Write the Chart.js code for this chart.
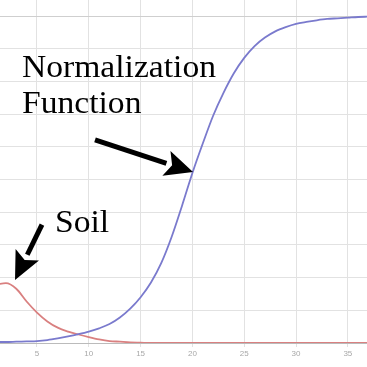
<!DOCTYPE html>
<html>
<head>
<meta charset="utf-8">
<script src="https://cdn.jsdelivr.net/npm/chart.js@4"></script>
<style>
  html, body { margin: 0; padding: 0; background: #fff; }
  #wrap { width: 367px; height: 367px; }
</style>
</head>
<body>
<div id="wrap"><canvas id="chart"></canvas></div>
<script>
// values
const xValues = [1, 2, 3, 4, 5, 6, 7, 8, 9, 10, 11, 12, 13, 14, 15, 16, 17, 18, 19,
  20, 21, 22, 23, 24, 25, 26, 27, 28, 29, 30, 31, 32, 33, 34, 35, 36, 37];
const soil = [0.178, 0.183, 0.166, 0.127, 0.093, 0.066, 0.047, 0.035, 0.026, 0.018,
  0.011, 0.006, 0.004, 0.002, 0.001, 0, 0, 0, 0, 0, 0, 0, 0, 0, 0, 0, 0, 0, 0, 0,
  0, 0, 0, 0, 0, 0, 0];
const normalization = [0.003, 0.003, 0.004, 0.005, 0.006, 0.009, 0.014, 0.020, 0.027,
  0.035, 0.045, 0.058, 0.078, 0.105, 0.14, 0.185, 0.245, 0.325, 0.42, 0.52, 0.61, 0.695,
  0.765, 0.825, 0.872, 0.908, 0.934, 0.953, 0.966, 0.976, 0.982, 0.987, 0.991, 0.993,
  0.995, 0.997, 0.998];
const xTicks = [5, 10, 15, 20, 25, 30, 35];
const yTicks = [0, 0.1, 0.2, 0.3, 0.4, 0.5, 0.6, 0.7, 0.8, 0.9, 1.0];

const toPoints = ys => xValues.map((x, i) => ({ x: x, y: ys[i] }));

// labels and arrows, placed in data coordinates
const labels = [
  { text: 'Normalization', x: 3.55, y: 0.813 },
  { text: 'Function', x: 3.55, y: 0.703 },
  { text: 'Soil', x: 6.74, y: 0.339 }
];
const arrows = [
  { from: [10.6, 0.621], to: [20.06, 0.523] },
  { from: [5.48, 0.362], to: [2.88, 0.193] }
];

const annotate = {
  id: 'annotate',
  afterDraw(chart) {
    const ctx = chart.ctx;
    const xs = chart.scales.x, ys = chart.scales.y;
    ctx.save();
    ctx.fillStyle = '#000';
    ctx.strokeStyle = '#000';
    ctx.font = '32px "Liberation Serif", "DejaVu Serif", serif';
    ctx.textBaseline = 'alphabetic';
    labels.forEach(l => {
      const px = xs.getPixelForValue(l.x), py = ys.getPixelForValue(l.y);
      ctx.save();
      ctx.translate(px, py);
      ctx.scale(1.05, 1);
      ctx.fillText(l.text, 0, 0);
      ctx.restore();
    });
    arrows.forEach(a => {
      const x1 = xs.getPixelForValue(a.from[0]), y1 = ys.getPixelForValue(a.from[1]);
      const x2 = xs.getPixelForValue(a.to[0]), y2 = ys.getPixelForValue(a.to[1]);
      const ang = Math.atan2(y2 - y1, x2 - x1);
      const headLen = 28, headW = 13;
      const bx = x2 - headLen * Math.cos(ang), by = y2 - headLen * Math.sin(ang);
      ctx.lineWidth = 5;
      ctx.beginPath();
      ctx.moveTo(x1, y1);
      ctx.lineTo(bx, by);
      ctx.stroke();
      ctx.beginPath();
      ctx.moveTo(x2, y2);
      ctx.lineTo(bx + headW * Math.sin(ang), by - headW * Math.cos(ang));
      ctx.lineTo(bx + 6 * Math.cos(ang), by + 6 * Math.sin(ang));
      ctx.lineTo(bx - headW * Math.sin(ang), by + headW * Math.cos(ang));
      ctx.closePath();
      ctx.fill();
    });
    ctx.restore();
  }
};

new Chart(document.getElementById('chart').getContext('2d'), {
  type: 'line',
  data: {
    datasets: [
      {
        label: 'Normalization Function',
        data: toPoints(normalization),
        borderColor: '#7a7acd',
        borderWidth: 1.8,
        pointRadius: 0,
        cubicInterpolationMode: 'monotone'
      },
      {
        label: 'Soil',
        data: toPoints(soil),
        borderColor: '#d98080',
        borderWidth: 1.8,
        pointRadius: 0,
        cubicInterpolationMode: 'monotone'
      }
    ]
  },
  options: {
    responsive: true,
    maintainAspectRatio: false,
    animation: false,
    layout: { padding: 0 },
    plugins: {
      legend: { display: false },
      tooltip: { enabled: false }
    },
    scales: {
      x: {
        type: 'linear',
        min: 1.43,
        max: 36.85,
        afterBuildTicks: s => { s.ticks = xTicks.map(v => ({ value: v })); },
        afterFit: s => { s.height = 24; },
        ticks: { color: '#a8a8a8', font: { size: 8 }, padding: 2, maxRotation: 0 },
        grid: { color: '#e2e2e2', tickLength: 4 },
        border: { color: '#bbb' }
      },
      y: {
        type: 'linear',
        min: 0,
        max: 1.049,
        afterBuildTicks: s => { s.ticks = yTicks.map(v => ({ value: v })); },
        afterFit: s => { s.width = 0; },
        ticks: { display: false },
        grid: { color: ctx => ctx.tick.value === 1 ? '#cfcfcf' : '#e2e2e2', drawTicks: false },
        border: { display: false }
      }
    }
  },
  plugins: [annotate]
});
</script>
</body>
</html>
